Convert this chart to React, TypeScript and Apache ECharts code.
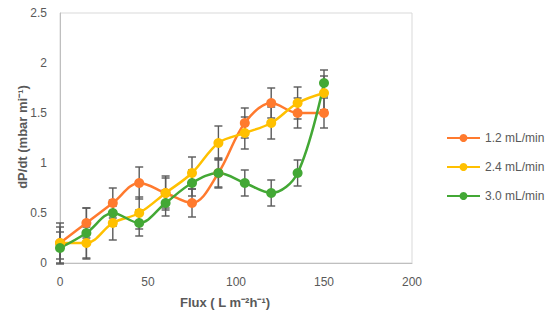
import React, { useEffect, useRef } from "react";
import * as echarts from "echarts";

const flux = [0, 15, 30, 45, 60, 75, 90, 105, 120, 135, 150];
const seriesNames = ["1.2 mL/min", "2.4 mL/min", "3.0 mL/min"];
const rate12 = [0.2, 0.4, 0.6, 0.8, 0.7, 0.6, 0.9, 1.4, 1.6, 1.5, 1.5];
const rate24 = [0.2, 0.2, 0.4, 0.5, 0.7, 0.9, 1.2, 1.3, 1.4, 1.6, 1.7];
const rate30 = [0.15, 0.3, 0.5, 0.4, 0.6, 0.8, 0.9, 0.8, 0.7, 0.9, 1.8];
const err12 = [0.2, 0.15, 0.15, 0.16, 0.15, 0.14, 0.15, 0.15, 0.15, 0.15, 0.15];
const err24 = [0.16, 0.16, 0.17, 0.16, 0.17, 0.16, 0.17, 0.16, 0.16, 0.16, 0.17];
const err30 = [0.16, 0.25, 0.13, 0.13, 0.13, 0.13, 0.14, 0.13, 0.13, 0.13, 0.13];
const colors = ["#FF7A2E", "#FFC000", "#43A835"];

const TEXT = "#595959";
const FONT = "'Liberation Sans', Arial, sans-serif";

export default function App() {
  const ref = useRef<HTMLDivElement>(null);
  useEffect(() => {
    if (!ref.current) return;
    const chart = echarts.init(ref.current, undefined, { renderer: "svg" });
    const values = [rate12, rate24, rate30];
    const errs = [err12, err24, err30];

    const lineSeries = seriesNames.map((name, i) => ({
      name,
      type: "line",
      data: flux.map((x, j) => [x, values[i][j]]),
      smooth: 0.35,
      symbol: "circle",
      symbolSize: 10,
      lineStyle: { color: colors[i], width: 2.5 },
      itemStyle: { color: colors[i] },
      z: 3,
    }));

    const errSeries = seriesNames.map((name, i) => ({
      name: name + " err",
      type: "custom",
      data: flux.map((x, j) => [x, values[i][j], errs[i][j]]),
      encode: { x: 0, y: 1 },
      z: 2,
      renderItem: (params: any, api: any) => {
        const x = api.value(0);
        const y = api.value(1);
        const e = api.value(2);
        const top = api.coord([x, y + e]);
        const bot = api.coord([x, y - e]);
        const w = 4;
        const st = { stroke: "#5A5A5A", lineWidth: 1.4 };
        return {
          type: "group",
          children: [
            { type: "line", shape: { x1: top[0], y1: top[1], x2: bot[0], y2: bot[1] }, style: st },
            { type: "line", shape: { x1: top[0] - w, y1: top[1], x2: top[0] + w, y2: top[1] }, style: st },
            { type: "line", shape: { x1: bot[0] - w, y1: bot[1], x2: bot[0] + w, y2: bot[1] }, style: st },
          ],
        };
      },
    }));

    chart.setOption({
      animation: false,
      textStyle: { fontFamily: FONT },
      grid: {
        left: 60,
        top: 13,
        width: 352,
        height: 250,
        show: true,
        borderColor: "#D9D9D9",
        borderWidth: 1,
      },
      xAxis: {
        type: "value",
        min: 0,
        max: 200,
        interval: 50,
        splitLine: { show: false },
        axisTick: { show: false },
        axisLine: { show: true, lineStyle: { color: "#BFBFBF" } },
        axisLabel: { color: TEXT, fontSize: 12, margin: 13, fontFamily: FONT },
      },
      yAxis: {
        type: "value",
        min: 0,
        max: 2.5,
        interval: 0.5,
        splitLine: { show: false },
        axisTick: { show: false },
        axisLine: { show: true, lineStyle: { color: "#BFBFBF" } },
        axisLabel: { color: TEXT, fontSize: 12, margin: 13, fontFamily: FONT },
      },
      legend: {
        data: seriesNames,
        orient: "vertical",
        left: 441,
        top: 127,
        itemWidth: 33,
        itemHeight: 10,
        itemGap: 17,
        textStyle: { color: TEXT, fontSize: 12, fontFamily: FONT },
      },
      graphic: [
        {
          type: "text",
          x: 225,
          y: 302,
          style: {
            text: "Flux ( L m⁻²h⁻¹)",
            fill: TEXT,
            font: `bold 13px ${FONT}`,
            textAlign: "center",
            textVerticalAlign: "middle",
          },
        },
        {
          type: "text",
          x: 22,
          y: 137,
          rotation: Math.PI / 2,
          style: {
            text: "dP/dt (mbar mi⁻¹)",
            fill: TEXT,
            font: `bold 13px ${FONT}`,
            textAlign: "center",
            textVerticalAlign: "middle",
          },
        },
      ],
      series: [...errSeries, ...lineSeries],
    });
    return () => chart.dispose();
  }, []);
  return (
    <div
      ref={ref}
      style={{ position: "fixed", left: 0, top: 0, width: 550, height: 316, background: "#fff" }}
    />
  );
}
